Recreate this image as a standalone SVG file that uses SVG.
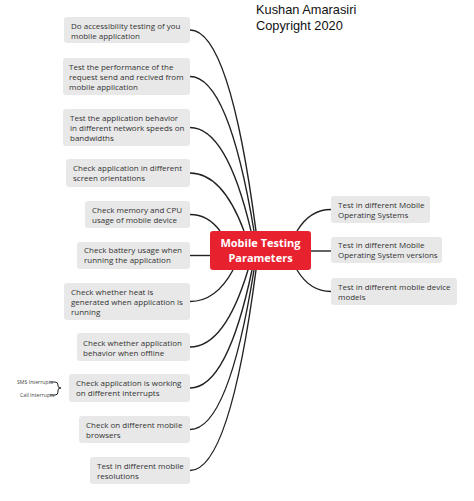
<svg xmlns="http://www.w3.org/2000/svg" width="474" height="501" viewBox="0 0 474 501">
<style>
.n rect{fill:#e8e8e8;rx:3;ry:3}
.n text{font-family:"Open Sans","Liberation Sans",sans-serif;font-size:8px;fill:#333}
.c path{fill:none;stroke:#222;stroke-width:1.4}
.t{font-family:"Liberation Sans",Arial,sans-serif;font-size:12.8px;fill:#111}
.s{font-family:"Open Sans","Liberation Sans",sans-serif;font-size:5.2px;fill:#444}
</style>
<rect width="474" height="501" fill="#fff"/>
<text class="t" x="256" y="14">Kushan Amarasiri</text>
<text class="t" x="256" y="30">Copyright 2020</text>
<g class="c">
<path d="M190,30 Q229.6,30 256,231"/>
<path d="M190,76.5 Q228.4,76.5 254,231"/>
<path d="M190,127.5 Q226.6,127.5 251,231"/>
<path d="M190,173 Q222.4,173 244,231"/>
<path d="M190,214.5 Q208,214.5 220,231"/>
<path d="M190,255.5 H210"/>
<path d="M190,301.5 Q216,301.5 233,270"/>
<path d="M190,347 Q224.8,347 248,270"/>
<path d="M190,388 Q227.2,388 252,270"/>
<path d="M190,429.5 Q228.4,429.5 254,270"/>
<path d="M190,470.5 Q229.6,470.5 256,270"/>
<path d="M331,209.5 Q310,209.5 297,231"/>
<path d="M311,251 H331"/>
<path d="M331,291.5 Q310,291.5 297,270"/>
<path d="M50,382 H55 Q58,382 58,385 V386 Q58,388 61,388 Q58,388 58,390 V392 Q58,395 55,395 H50" style="stroke-width:1"/>
</g>
<g id="center">
<rect x="210" y="231" width="101" height="39" rx="3" fill="#e8212f"/>
<text x="260.5" y="247" text-anchor="middle" style="font-family:'Open Sans','Liberation Sans',sans-serif;font-size:11px;font-weight:bold;fill:#fff">Mobile Testing</text>
<text x="260.5" y="262" text-anchor="middle" style="font-family:'Open Sans','Liberation Sans',sans-serif;font-size:11px;font-weight:bold;fill:#fff">Parameters</text>
</g>
<g id="n1" class="n"><rect x="64" y="17" width="126" height="26"/><text x="71" y="29">Do accessibility testing of you</text><text x="71" y="39">mobile application</text></g>
<g id="n2" class="n"><rect x="63" y="58" width="127" height="37"/><text x="69" y="70">Test the performance of the</text><text x="69" y="80">request send and recived from</text><text x="69" y="90">mobile application</text></g>
<g id="n3" class="n"><rect x="63" y="109" width="127" height="37"/><text x="70" y="121">Test the application behavior</text><text x="70" y="131">in different network speeds on</text><text x="70" y="141">bandwidths</text></g>
<g id="n4" class="n"><rect x="66" y="159" width="124" height="28"/><text x="73" y="171">Check application in different</text><text x="73" y="181">screen orientations</text></g>
<g id="n5" class="n"><rect x="85" y="201" width="105" height="27"/><text x="92" y="213">Check memory and CPU</text><text x="92" y="223">usage of mobile device</text></g>
<g id="n6" class="n"><rect x="77" y="242" width="113" height="27"/><text x="84" y="253">Check battery usage when</text><text x="84" y="263">running the application</text></g>
<g id="n7" class="n"><rect x="64" y="283" width="126" height="37"/><text x="71" y="295">Check whether heat is</text><text x="71" y="305">generated when application is</text><text x="71" y="315">running</text></g>
<g id="n8" class="n"><rect x="77" y="333" width="113" height="28"/><text x="83" y="346">Check whether application</text><text x="83" y="356">behavior when offline</text></g>
<g id="n9" class="n"><rect x="69" y="374" width="121" height="28"/><text x="76" y="386">Check application is working</text><text x="76" y="396">on different interrupts</text></g>
<g id="n10" class="n"><rect x="79" y="416" width="111" height="27"/><text x="86" y="428">Check on different mobile</text><text x="86" y="438">browsers</text></g>
<g id="n11" class="n"><rect x="90" y="457" width="100" height="27"/><text x="97" y="469">Test in different mobile</text><text x="97" y="479">resolutions</text></g>
<g id="r1" class="n"><rect x="331" y="196" width="99" height="27"/><text x="338" y="208">Test in different Mobile</text><text x="338" y="218">Operating Systems</text></g>
<g id="r2" class="n"><rect x="331" y="237" width="111" height="26"/><text x="338" y="248">Test in different Mobile</text><text x="338" y="258">Operating System versions</text></g>
<g id="r3" class="n"><rect x="331" y="278" width="126" height="27"/><text x="338" y="290">Test in different mobile device</text><text x="338" y="300">models</text></g>
<g id="sms"><text class="s" x="17" y="384">SMS Interrupts</text></g>
<g id="call"><text class="s" x="20" y="397">Call Interrupts</text></g>
</svg>
